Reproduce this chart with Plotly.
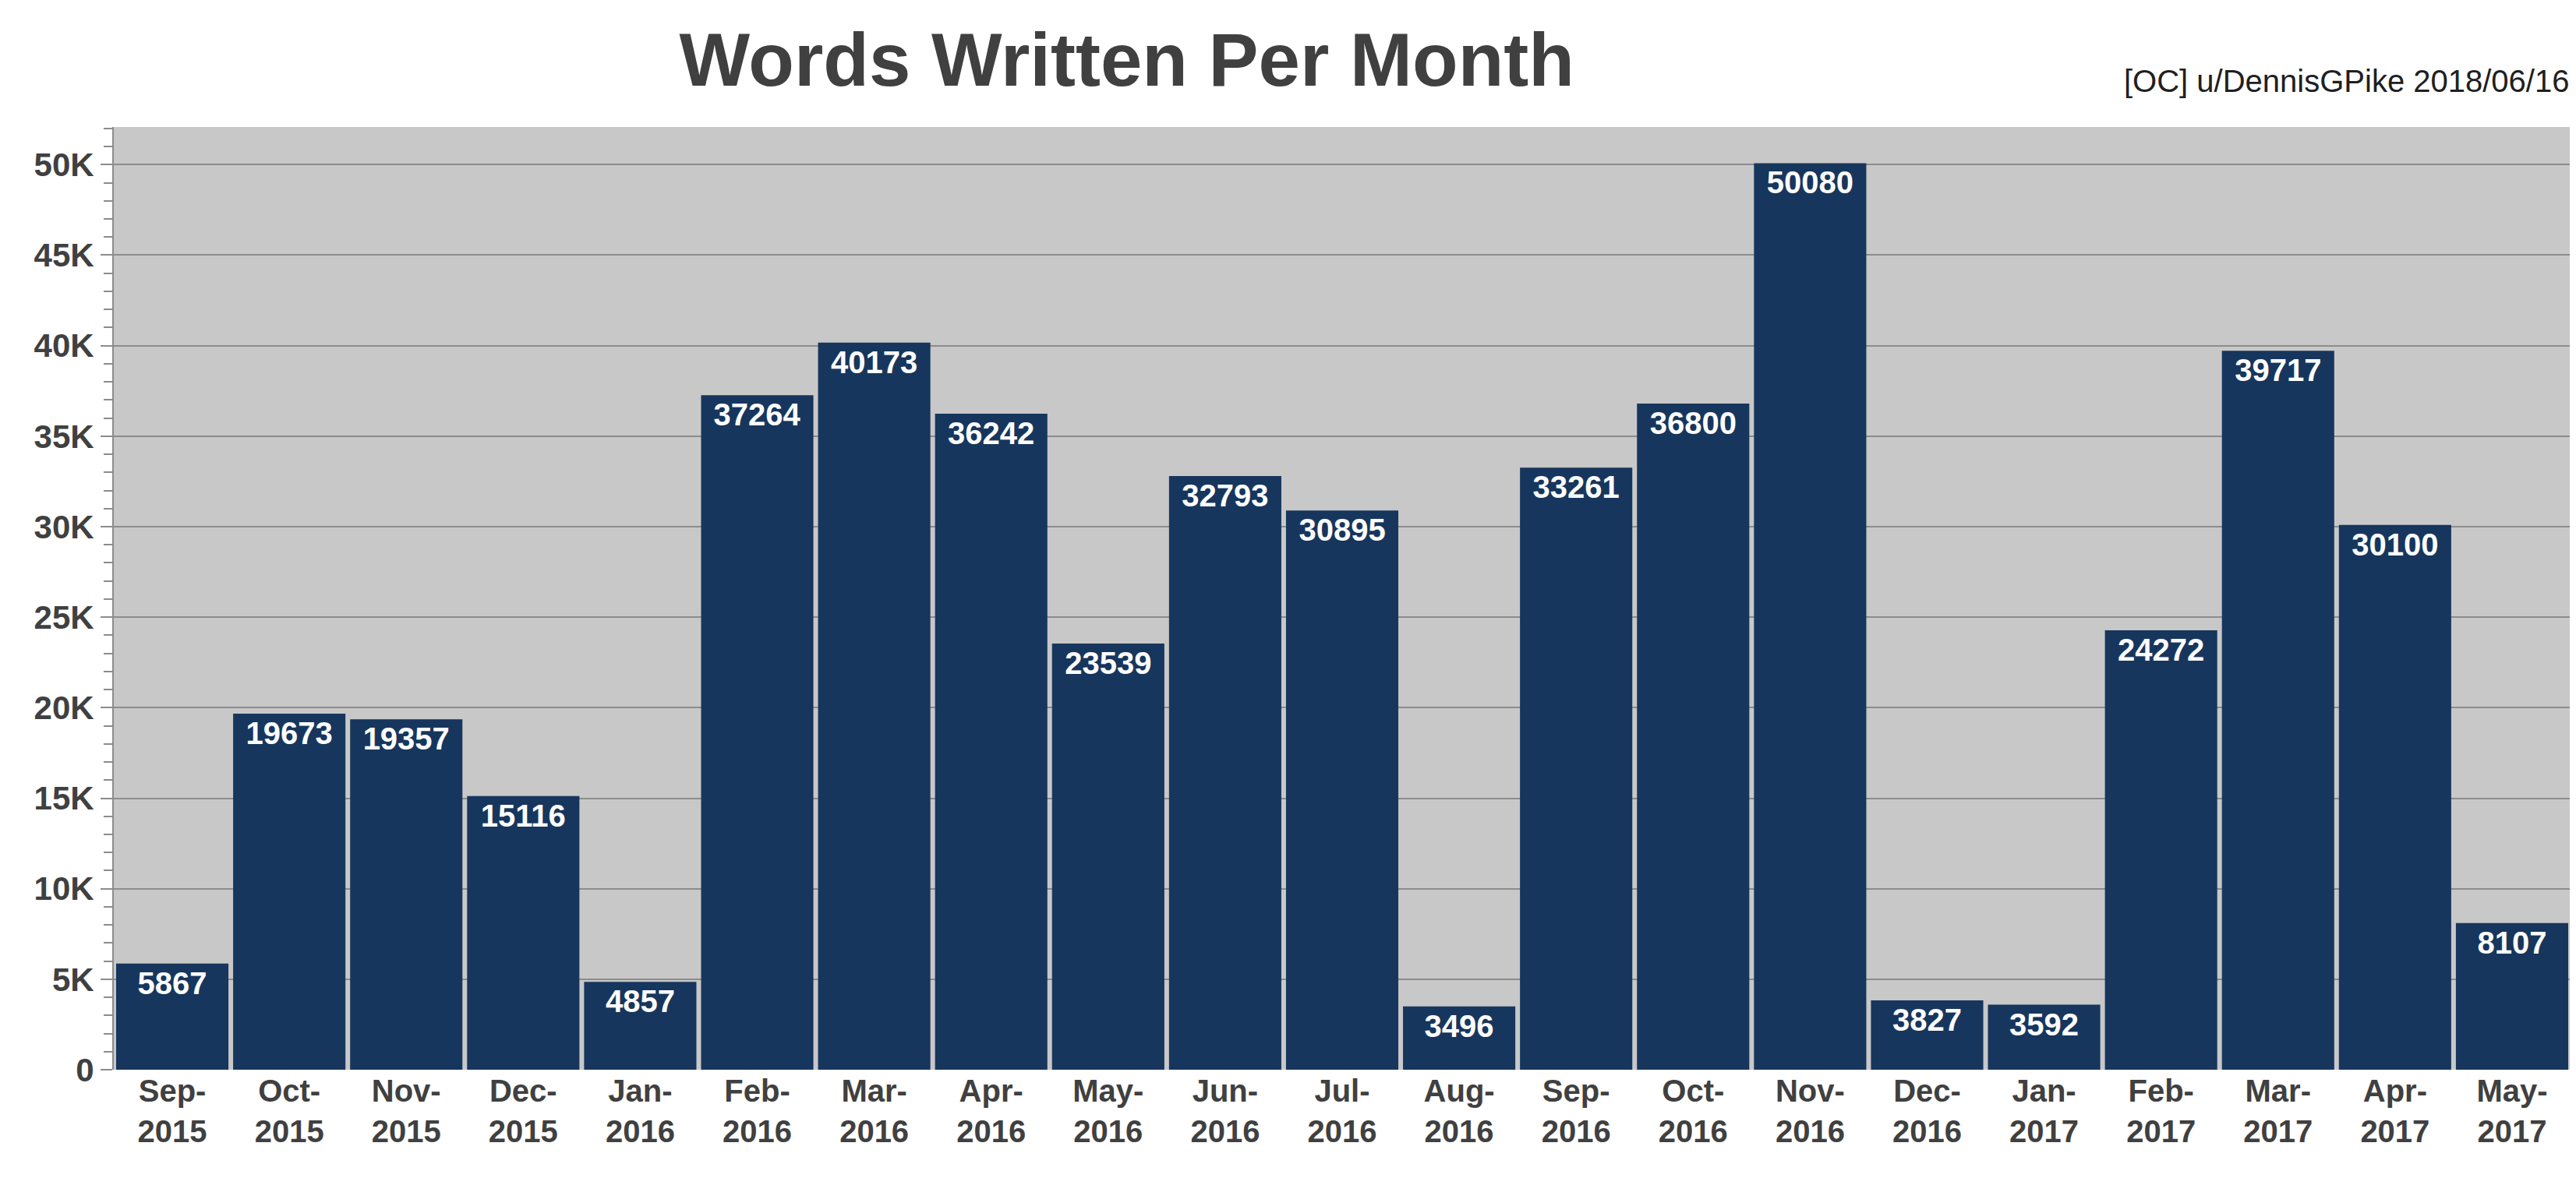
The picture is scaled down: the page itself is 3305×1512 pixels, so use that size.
import plotly.graph_objects as go

months = ["Sep-2015","Oct-2015","Nov-2015","Dec-2015","Jan-2016","Feb-2016","Mar-2016","Apr-2016",
          "May-2016","Jun-2016","Jul-2016","Aug-2016","Sep-2016","Oct-2016","Nov-2016","Dec-2016",
          "Jan-2017","Feb-2017","Mar-2017","Apr-2017","May-2017"]
words = [5867,19673,19357,15116,4857,37264,40173,36242,23539,32793,30895,3496,33261,36800,50080,3827,
         3592,24272,39717,30100,8107]
ytick_vals = list(range(0, 55000, 5000))
ytick_text = ["0"] + [f"{v//1000}K" for v in ytick_vals[1:]]

labels = [m.replace("-", "-<br>") for m in months]
fig = go.Figure(go.Bar(
    x=labels, y=words, marker=dict(color="#17365d", line=dict(width=0)),
    text=[str(w) for w in words], textposition="inside", insidetextanchor="end",
    textangle=0, textfont=dict(color="white", size=40, family="Liberation Sans", weight="bold"),
    cliponaxis=False,
))
fig.update_layout(
    width=3305, height=1512, paper_bgcolor="white", plot_bgcolor="#c8c8c8",
    margin=dict(l=138, r=15, t=155, b=147), bargap=0.04, showlegend=False,
    uniformtext=dict(minsize=40, mode="show"),
    font=dict(family="Liberation Sans", color="#404040"),
    title=dict(text="<b>Words Written Per Month</b>", x=0.435, xanchor="center", y=0.955, yanchor="middle",
               font=dict(size=96, color="#404040", family="Liberation Sans")),
    annotations=[dict(text="[OC] u/DennisGPike 2018/06/16", xref="paper", yref="paper", x=1.0, y=1.0,
                      xanchor="right", yanchor="bottom", yshift=35, showarrow=False,
                      font=dict(size=40, color="#202020", family="Liberation Sans"))],
)
fig.update_xaxes(tickfont=dict(size=40, color="#404040", weight="bold"), showgrid=False,
                 showline=False, ticks="")
fig.update_yaxes(range=[0, 52080], tickvals=ytick_vals, ticktext=ytick_text,
                 tickfont=dict(size=42, color="#404040", weight="bold"),
                 gridcolor="#8c8c8c", gridwidth=2, zeroline=False,
                 showline=True, linecolor="#8c8c8c", linewidth=2,
                 ticks="outside", ticklen=15, tickcolor="#8c8c8c", tickwidth=2,
                 minor=dict(dtick=1000, ticks="outside", ticklen=11, tickcolor="#8c8c8c", showgrid=False))
fig.write_html("out.html")
